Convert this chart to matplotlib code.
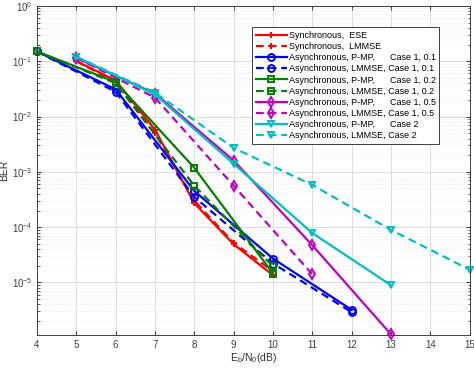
import matplotlib
matplotlib.use("Agg")
import matplotlib.pyplot as plt
import numpy as np

plt.rcParams['font.family'] = ['Liberation Sans', 'DejaVu Sans']
plt.rcParams['mathtext.fontset'] = 'custom'
plt.rcParams['mathtext.rm'] = 'Liberation Sans'

# data (Eb/N0 in dB, BER)
x_even10 = [4, 6, 8, 10]
x_even12 = [4, 6, 8, 10, 12]
x_red = [5, 6, 7, 8, 9, 10]
x_odd13 = [5, 7, 9, 11, 13]
x_odd11 = [5, 7, 9, 11]
x_odd15 = [5, 7, 9, 11, 13, 15]

sync_ese = [0.10, 0.045, 0.0058, 2.7e-4, 4.9e-5, 1.35e-5]
sync_lmmse = [0.10, 0.042, 0.0050, 3.0e-4, 5.2e-5, 1.6e-5]
pmp_01 = [0.15, 0.031, 4.5e-4, 2.7e-5, 3.2e-6]
lmmse_01 = [0.15, 0.028, 3.5e-4, 2.2e-5, 2.9e-6]
pmp_02 = [0.15, 0.042, 1.18e-3, 1.45e-5]
lmmse_02 = [0.15, 0.040, 5.6e-4, 1.95e-5]
pmp_05 = [0.115, 0.026, 1.6e-3, 4.7e-5, 1.15e-6]
lmmse_05 = [0.115, 0.022, 5.6e-4, 1.4e-5]
pmp_c2 = [0.12, 0.025, 1.4e-3, 7.8e-5, 8.9e-6]
lmmse_c2 = [0.12, 0.027, 2.7e-3, 5.8e-4, 8.9e-5, 1.7e-5]

labels = [
    'Synchronous,  ESE',
    'Synchronous,  LMMSE',
    'Asynchronous, P-MP,      Case 1, 0.1',
    'Asynchronous, LMMSE, Case 1, 0.1',
    'Asynchronous, P-MP,      Case 1, 0.2',
    'Asynchronous, LMMSE, Case 1, 0.2',
    'Asynchronous, P-MP,      Case 1, 0.5',
    'Asynchronous, LMMSE, Case 1, 0.5',
    'Asynchronous, P-MP,      Case 2',
    'Asynchronous, LMMSE, Case 2',
]

red = (1, 0, 0)
blue = (0, 0, 1)
green = (0, 0.5, 0)
magenta = (0.75, 0, 0.75)
cyan = (0, 0.75, 0.75)

series = [
    (x_red, sync_ese, red, '-', '+'),
    (x_red, sync_lmmse, red, '--', '+'),
    (x_even12, pmp_01, blue, '-', 'o'),
    (x_even12, lmmse_01, blue, '--', 'o'),
    (x_even10, pmp_02, green, '-', 's'),
    (x_even10, lmmse_02, green, '--', 's'),
    (x_odd13, pmp_05, magenta, '-', 'd'),
    (x_odd11, lmmse_05, magenta, '--', 'd'),
    (x_odd13, pmp_c2, cyan, '-', 'v'),
    (x_odd15, lmmse_c2, cyan, '--', 'v'),
]

fig = plt.figure(figsize=(4.74, 3.69), dpi=100)
ax = fig.add_axes([0.078, 0.092, 0.913, 0.892])

for (xs, ys, c, ls, m), lab in zip(series, labels):
    ax.semilogy(xs, ys, color=c, linestyle=ls, marker=m, markersize=5,
                markerfacecolor='none', markeredgewidth=1.4, linewidth=1.6,
                label=lab, clip_on=False, dashes=(3.5, 2.2) if ls == '--' else (None, None))

ax.set_xlim(4, 15)
ax.set_ylim(1.12e-6, 1)
ax.set_xticks(range(4, 16))
ax.grid(True, which='major', color='#dcdcdc', linewidth=0.7)
ax.grid(True, which='minor', axis='y', color='#e6e6e6', linewidth=0.5, linestyle=':')
ax.tick_params(which='both', direction='in', top=True, right=True, labelsize=7,
               colors='#404040', length=3)
ax.tick_params(which='minor', length=1.8)
for s in ax.spines.values():
    s.set_color('#404040')
    s.set_linewidth(0.7)
ax.set_axisbelow(True)

ax.set_xlabel(r'$\mathregular{E_b/N_0}$(dB)', fontsize=7.5, color='#303030', labelpad=1)
ax.set_ylabel('BER', fontsize=7.5, color='#303030', labelpad=2)

leg = ax.legend(loc='upper right', bbox_to_anchor=(0.93, 0.935), fontsize=6.5,
                handlelength=3.4, labelspacing=0.24, borderpad=0.4,
                handletextpad=0.25, fancybox=False, framealpha=1,
                edgecolor='#404040', borderaxespad=0.0)
leg.get_frame().set_linewidth(0.7)

fig.savefig('out.png', dpi=100)
